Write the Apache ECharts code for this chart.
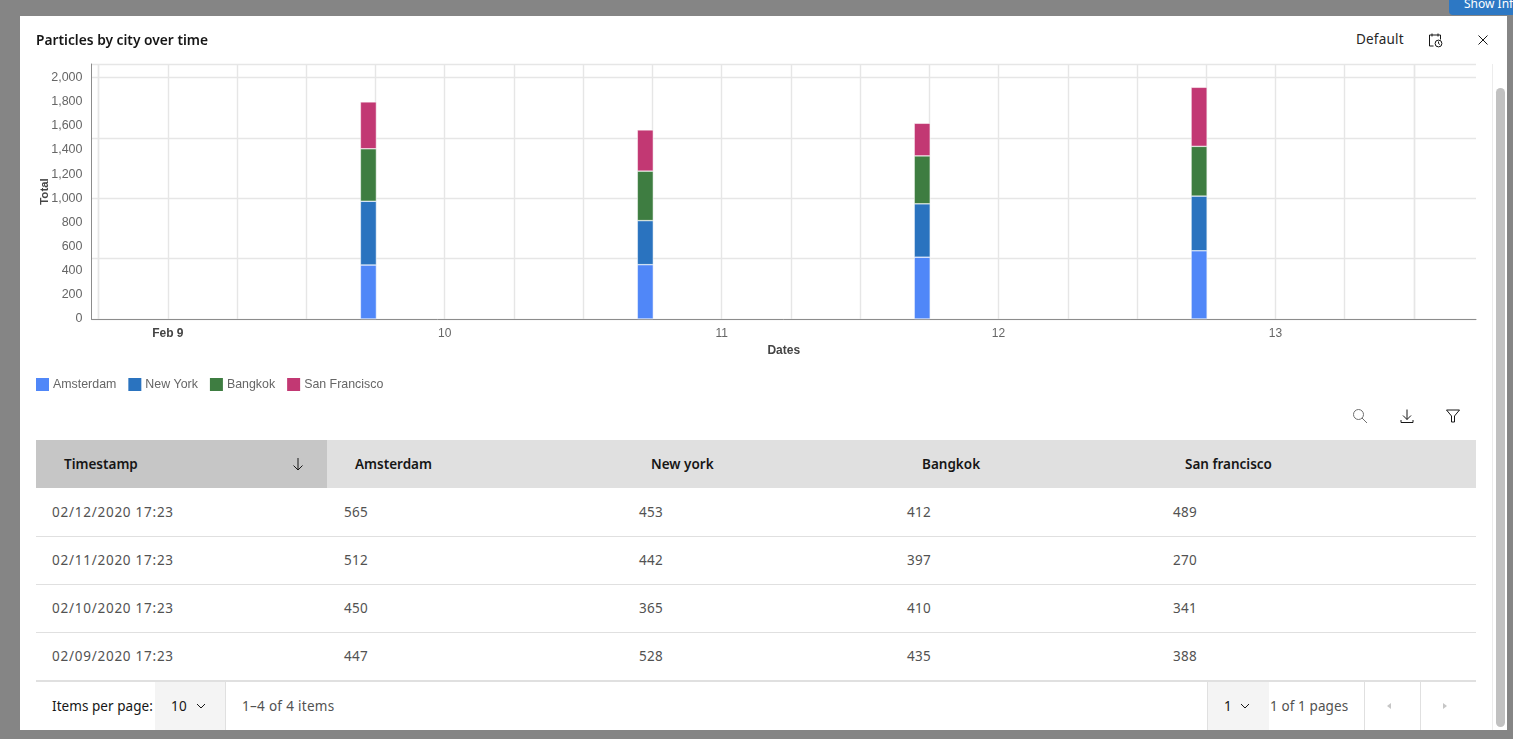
<!DOCTYPE html>
<html>
<head>
<meta charset="utf-8">
<title>Particles by city over time</title>
<script src="https://cdn.jsdelivr.net/npm/echarts@6/dist/echarts.min.js"></script>
<style>
  html, body { margin: 0; padding: 0; width: 1513px; height: 739px; overflow: hidden; background: #858585; font-family: "Noto Sans", sans-serif; }
  #modal { position: absolute; left: 20px; top: 16px; width: 1487px; height: 714px; background: #fff; }
  #chart { position: absolute; left: 0; top: 0; width: 1513px; height: 400px; }
  .abs { position: absolute; white-space: nowrap; }
  .cell { font-size: 13.5px; color: #525252; letter-spacing: 0.3px; transform: translateY(-50%); }
  .head { font-size: 13.5px; font-weight: 600; color: #161616; transform: translateY(-50%); }
  .box { position: absolute; }
  svg.abs { overflow: visible; }
</style>
</head>
<body>
<div id="modal"></div>
<div id="page"></div>
<div id="chart"></div>
<script>
const cities = ["Amsterdam", "New York", "Bangkok", "San Francisco"];
const tableHeaders = ["Timestamp", "Amsterdam", "New york", "Bangkok", "San francisco"];
const barDates = ["2020-02-09T17:23:00Z", "2020-02-10T17:23:00Z", "2020-02-11T17:23:00Z", "2020-02-12T17:23:00Z"];
const tableTimes = ["02/12/2020 17:23", "02/11/2020 17:23", "02/10/2020 17:23", "02/09/2020 17:23"];
const amsterdam = [447, 450, 512, 565];
const newYork = [528, 365, 442, 453];
const bangkok = [435, 410, 397, 412];
const sanFrancisco = [388, 341, 270, 489];
const cityColors = ["#5087f8", "#2a73bf", "#3e7d41", "#c23873"];
const xStart = "2020-02-08T17:23:00Z";
const xEnd = "2020-02-13T17:23:00Z";
const monthTick = ["2020-02-09T00:00:00Z"];
const dayTicks = ["2020-02-10T00:00:00Z", "2020-02-11T00:00:00Z", "2020-02-12T00:00:00Z", "2020-02-13T00:00:00Z"];
const gridTicks = [
  "2020-02-08T18:00:00Z",
  "2020-02-09T00:00:00Z", "2020-02-09T06:00:00Z", "2020-02-09T12:00:00Z", "2020-02-09T18:00:00Z",
  "2020-02-10T00:00:00Z", "2020-02-10T06:00:00Z", "2020-02-10T12:00:00Z", "2020-02-10T18:00:00Z",
  "2020-02-11T00:00:00Z", "2020-02-11T06:00:00Z", "2020-02-11T12:00:00Z", "2020-02-11T18:00:00Z",
  "2020-02-12T00:00:00Z", "2020-02-12T06:00:00Z", "2020-02-12T12:00:00Z", "2020-02-12T18:00:00Z",
  "2020-02-13T00:00:00Z", "2020-02-13T06:00:00Z", "2020-02-13T12:00:00Z"
];
const yMax = 2112;

const ms = (s) => new Date(s).getTime();
const page = document.getElementById("page");

function addText(x, y, text, cls, extra) {
  const d = document.createElement("div");
  d.className = "abs " + cls;
  d.style.left = x + "px";
  d.style.top = y + "px";
  d.textContent = text;
  if (extra) d.style.cssText += extra;
  page.appendChild(d);
}

function addBox(x, y, w, h, color, extra) {
  const d = document.createElement("div");
  d.className = "box";
  d.style.cssText = `left:${x}px;top:${y}px;width:${w}px;height:${h}px;background:${color};` + (extra || "");
  page.appendChild(d);
}

function addIcon(x, y, size, inner) {
  const wrap = document.createElement("div");
  wrap.innerHTML = `<svg class="abs" style="left:${x}px;top:${y}px" width="${size}" height="${size}" viewBox="0 0 16 16" fill="none" stroke="#161616" stroke-width="1">${inner}</svg>`;
  page.appendChild(wrap.firstChild);
}

// window chrome
addBox(1449, 0, 64, 15, "#2d78c4", "border-bottom-left-radius:4px;");
addText(1464, -5, "Show Info", "", "font-size:12px;color:#fff;");
addBox(1492, 64, 1, 666, "#ececec");
addBox(1496, 88, 9, 639, "#c1c1c1", "border-radius:5px;");
addText(1356, 39, "Default", "", "font-size:13.5px;color:#262626;letter-spacing:0.2px;transform:translateY(-50%);");
addIcon(1427, 32, 16, '<path d="M6.5 14H2.5V3H13.5V7.5M5 1.5v3M11 1.5v3"/><circle cx="11.5" cy="11.5" r="3.4"/><path d="M11.5 9.5v2l1.4 1"/>');
addIcon(1475, 32, 16, '<path d="M3.5 3.5l9 9M12.5 3.5l-9 9"/>');
addIcon(1352, 408, 16, '<circle cx="6.5" cy="6.5" r="5" stroke="#6f6f6f"/><path d="M10 10l5 5" stroke="#6f6f6f"/>');
addIcon(1399, 408, 16, '<path d="M8 1.5v10M4 7.5l4 4 4-4M2 12v2.5h12V12"/>');
addIcon(1445, 408, 16, '<path d="M1.5 2h13L9.5 8v6h-3V8z"/>');

// data table
const headerX = [64, 355, 651, 922, 1185];
const cellX = [52, 344, 639, 907, 1173];
const rowY = [512, 560, 608, 656];
const columns = [tableTimes, amsterdam.slice().reverse(), newYork.slice().reverse(), bangkok.slice().reverse(), sanFrancisco.slice().reverse()];

addBox(36, 440, 1440, 48, "#e0e0e0");
addBox(36, 440, 291, 48, "#c6c6c6");
tableHeaders.forEach((h, i) => addText(headerX[i], 464, h, "head"));
addIcon(290, 456, 16, '<path d="M8 2v12M3.5 9.5L8 14l4.5-4.5"/>');
rowY.forEach((y, r) => {
  columns.forEach((col, c) => addText(cellX[c], y, String(col[r]), "cell", c === 0 ? "letter-spacing:0.75px;" : ""));
  addBox(36, y + 24, 1440, r === 3 ? 2 : 1, "#e0e0e0");
});

// pagination
addBox(155, 682, 70, 48, "#f4f4f4");
addBox(225, 682, 1, 48, "#e0e0e0");
addBox(1207, 682, 62, 48, "#f4f4f4");
addBox(1207, 682, 1, 48, "#e0e0e0");
addBox(1364, 682, 1, 48, "#e0e0e0");
addBox(1420, 682, 1, 48, "#e0e0e0");
addText(52, 706, "Items per page:", "cell", "color:#161616;letter-spacing:0.05px;");
addText(171, 706, "10", "cell", "color:#161616;");
addText(242, 706, "1–4 of 4 items", "cell", "letter-spacing:0.3px;");
addText(1224, 706, "1", "cell", "color:#161616;");
addText(1270, 706, "1 of 1 pages", "cell", "letter-spacing:0.1px;");
addIcon(193, 698, 16, '<path d="M4 6l4 4 4-4"/>');
addIcon(1237, 698, 16, '<path d="M4 6l4 4 4-4"/>');
addIcon(1381, 698, 16, '<path d="M10 5v6L6 8z" fill="#c6c6c6" stroke="none"/>');
addIcon(1437, 698, 16, '<path d="M6 5v6l4-3z" fill="#c6c6c6" stroke="none"/>');

// chart
const chart = echarts.init(document.getElementById("chart"));
const lineColor = "#e6e6e6";
const textColor = "#666666";
const chartFont = '"Liberation Sans", Arial, sans-serif';
const seriesValues = [amsterdam, newYork, bangkok, sanFrancisco];

const gridWidth = 1384.5;
const barWidth = 16;
// echarts widens a time axis by half a bar each side, so shrink min/max to land on xStart/xEnd
const barPad = (ms(xEnd) - ms(xStart)) * (barWidth / 2) / gridWidth;

chart.setOption({
  useUTC: true,
  animation: false,
  color: cityColors,
  textStyle: { fontFamily: chartFont },
  title: {
    text: "Particles by city over time",
    left: 36,
    top: 34,
    padding: 0,
    textStyle: { fontFamily: '"Noto Sans", sans-serif', fontSize: 13.75, fontWeight: 600, color: "#161616" }
  },
  legend: {
    left: 36,
    top: 378,
    padding: 0,
    itemWidth: 13,
    itemHeight: 13,
    itemGap: 12,
    icon: "rect",
    data: cities,
    itemStyle: { borderWidth: 0 },
    textStyle: { fontFamily: chartFont, fontSize: 12.4, color: textColor, padding: [0, 0, 2, -1] }
  },
  grid: { left: 91.5, right: 37, top: 64, bottom: 81, containLabel: false },
  xAxis: [
    {
      type: "time",
      min: ms(xStart) + barPad,
      max: ms(xEnd) - barPad,
      name: "Dates",
      nameLocation: "middle",
      nameGap: 26,
      nameMoveOverlap: false,
      nameTextStyle: { fontFamily: chartFont, fontSize: 12, fontWeight: "bold", color: "#444444" },
      axisLine: { show: true, lineStyle: { color: "#8c8c8c", width: 1 } },
      axisTick: { show: false, customValues: gridTicks.map(ms) },
      axisLabel: {
        customValues: dayTicks.map(ms),
        formatter: "{d}",
        margin: 9,
        fontFamily: chartFont,
        fontSize: 12,
        color: textColor
      },
      splitLine: { show: true, lineStyle: { color: lineColor, width: 1.4 } }
    },
    {
      // second axis only carries the bold month label
      type: "time",
      position: "bottom",
      min: ms(xStart),
      max: ms(xEnd),
      axisLine: { show: false },
      axisTick: { show: false },
      axisLabel: {
        customValues: monthTick.map(ms),
        formatter: "{MMM} {d}",
        margin: 9,
        fontFamily: chartFont,
        fontSize: 12,
        fontWeight: "bold",
        color: "#444444"
      },
      splitLine: { show: false }
    }
  ],
  yAxis: [
    {
      type: "value",
      min: 0,
      max: yMax,
      interval: 200,
      name: "Total",
      nameLocation: "middle",
      nameGap: 41,
      nameMoveOverlap: false,
      nameTextStyle: { fontFamily: chartFont, fontSize: 11.5, fontWeight: "bold", color: "#444444" },
      axisLine: { show: true, lineStyle: { color: "#8c8c8c", width: 1 } },
      axisTick: { show: false },
      axisLabel: {
        showMaxLabel: false,
        margin: 9,
        padding: [0, 0, 3, 0],
        fontFamily: chartFont,
        fontSize: 12.5,
        color: textColor,
        formatter: (v) => v.toLocaleString("en-US")
      },
      splitLine: { show: false }
    },
    {
      type: "value",
      position: "left",
      min: 0,
      max: yMax,
      interval: 500,
      axisLine: { show: false },
      axisTick: { show: false },
      axisLabel: { show: false },
      splitLine: { show: true, lineStyle: { color: lineColor, width: 1.4 } }
    }
  ],
  series: cities.map((name, i) => ({
    name,
    type: "bar",
    stack: "total",
    barWidth: barWidth,
    xAxisIndex: 0,
    yAxisIndex: 0,
    itemStyle: { borderColor: "#ffffff", borderWidth: 0.5 },
    data: barDates.map((d, j) => [ms(d), seriesValues[i][j]])
  }))
});
</script>
</body>
</html>
